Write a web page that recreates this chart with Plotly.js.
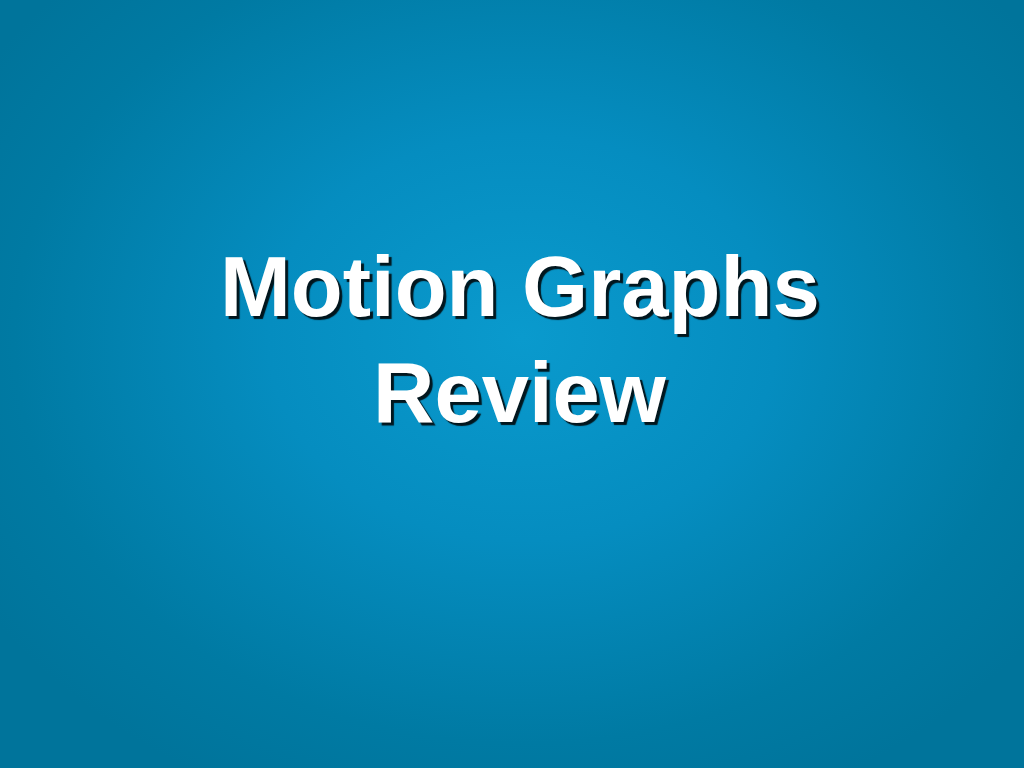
<!DOCTYPE html>
<html>
<head>
<meta charset="utf-8">
<script src="https://cdn.plot.ly/plotly-3.0.1.min.js"></script>
<style>
  html, body { margin: 0; padding: 0; width: 1024px; height: 768px; overflow: hidden; }
  /* slide background: light centre fading to darker blue at the edges */
  #slide {
    width: 1024px; height: 768px;
    background: radial-gradient(ellipse 62% 66% at 51% 44%, #0a9acd 0%, #058dc0 40%, #007aa3 80%, #00749b 100%);
  }
</style>
</head>
<body>
<div id="slide"></div>
<script>
// text lines of the title slide
const titleLines = ['Motion Graphs', 'Review'];
const lineY = [0.627, 0.489];

let annotations = titleLines.map(function (line, i) {
    return {
        text: line,
        xref: 'paper', yref: 'paper',
        x: 0.508, y: lineY[i],
        xanchor: 'center', yanchor: 'middle',
        showarrow: false,
        font: {
            family: 'Liberation Sans, Arial, sans-serif',
            size: 85,
            color: '#ffffff',
            weight: 'bold',
            shadow: '3px 3px 1px rgba(0,0,0,0.85)'
        }
    };
});

let layout = {
    width: 1024,
    height: 768,
    margin: {l: 0, r: 0, t: 0, b: 0},
    paper_bgcolor: 'rgba(0,0,0,0)',
    plot_bgcolor: 'rgba(0,0,0,0)',
    xaxis: {visible: false, range: [0, 1]},
    yaxis: {visible: false, range: [0, 1]},
    showlegend: false,
    annotations: annotations
};

Plotly.newPlot('slide', [], layout, {staticPlot: true, displayModeBar: false});
</script>
</body>
</html>
